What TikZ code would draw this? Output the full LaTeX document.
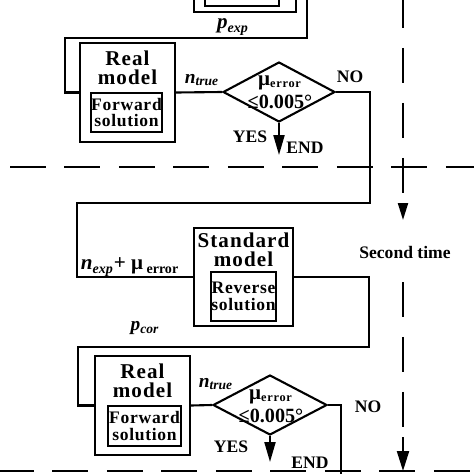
\documentclass[tikz,border=0pt]{standalone}
\usepackage{fontspec}
\setmainfont{Liberation Serif}
\usetikzlibrary{arrows.meta,shapes.geometric,positioning}

\tikzset{
  box/.style={draw, line width=1.2pt, inner sep=0pt},
  decide/.style={draw, diamond, line width=1.2pt, inner sep=0pt, minimum width=2.24cm, minimum height=1.2cm},
  title/.style={font=\bfseries\fontsize{12}{10.5}\selectfont\addfontfeatures{LetterSpace=5}, align=center, inner sep=0pt},
  solve/.style={font=\bfseries\fontsize{10}{9.5}\selectfont\addfontfeatures{LetterSpace=4}, align=center},
  lbl/.style={font=\bfseries\fontsize{10}{10}\selectfont, inner sep=0pt},
  var/.style={font=\bfseries\itshape\fontsize{12}{12}\selectfont, inner sep=0pt},
  flow/.style={line width=1.2pt},
  tip/.style={-{Triangle[length=0.4cm,width=0.22cm]}},
  cut/.style={line width=1.2pt, dash pattern=on 0.72cm off 0.37cm},
}

\begin{document}
\begin{tikzpicture}[x=0.02cm, y=-0.02cm]
    \clip (0,0) rectangle (474,474);

    % First time (cut off at the top)
    \node[box, minimum width=2.04cm, minimum height=2.08cm] (stdA) at (245,-40) {};
    \node[box, minimum width=1.48cm, minimum height=1.96cm] (revA) at (242,-43) {};

    % Real model, first check
    \node[box, minimum width=1.9cm, minimum height=1.98cm] (real1) at (127.5,92.5) {};
    \node[title, below=0.18cm of real1.north] (real1t) {Real\\model};
    \node[box, solve, minimum width=1.42cm, minimum height=0.78cm] (fwd1) at (126.5,112.5) {Forward\\solution};
    \node[decide] (dia1) at (279,92) {};
    \node[lbl, align=center] (dia1t) at (280,92) {{\fontsize{12}{12}\selectfont μ}\textsubscript{\addfontfeatures{LetterSpace=6}error}\\[2pt]{\fontsize{11.5}{11}\selectfont ≤0.005°}};

    % Standard model, second time
    \node[box, minimum width=1.98cm, minimum height=1.96cm] (std2) at (243.5,277) {};
    \node[title, below=0.12cm of std2.north] (std2t) {Standard\\model};
    \node[box, solve, minimum width=1.3cm, minimum height=0.98cm] (rev2) at (243.5,296.5) {Reverse\\solution};

    % Real model, second check
    \node[box, minimum width=1.9cm, minimum height=1.98cm] (real2) at (142.5,405.5) {};
    \node[title, below=0.18cm of real2.north] (real2t) {Real\\model};
    \node[box, solve, minimum width=1.46cm, minimum height=0.8cm] (fwd2) at (144.5,426) {Forward\\solution};
    \node[decide, minimum width=2.28cm] (dia2) at (270,405) {};
    \node[lbl, align=center] (dia2t) at (271,406) {{\fontsize{12}{12}\selectfont μ}\textsubscript{\addfontfeatures{LetterSpace=6}error}\\[2pt]{\fontsize{11.5}{11}\selectfont ≤0.005°}};

    % Connectors
    \draw[flow] (stdA.east) -- ++(10,0) |- (65,38) |- (real1.west);
    \draw[flow] (real1.east) -- (dia1.west);
    \draw[flow] (dia1.east) -| (370,203) -- (77,203) |- (std2.west);
    \draw[flow] (std2.east) -| (369,347) -- (78,347) |- (real2.west);
    \draw[flow] (real2.east) -- (dia2.west);
    \draw[flow] (dia2.east) -| (341,480);
    \draw[flow, tip] (dia1.south) -- (279,155);
    \draw[flow, tip] (dia2.south) -- (270,462);

    % Labels
    \node[var] (pexp) at (233,27) {p\textsubscript{exp}};
    \node[var, font=\bfseries\itshape\fontsize{11}{11}\selectfont] (ntrue1) at (202,80) {n\textsubscript{true}};
    \node[lbl] (no1) at (350,77) {NO};
    \node[lbl] (yes1) at (250,137) {YES};
    \node[lbl] (end1) at (305,148) {END};
    \node[var] (nexp) at (130,267) {n\textsubscript{exp}\textup{+ μ\,\textsubscript{error}}};
    \node[var, font=\bfseries\itshape\fontsize{11}{11}\selectfont] (pcor) at (145,328) {p\textsubscript{cor}};
    \node[var, font=\bfseries\itshape\fontsize{11}{11}\selectfont] (ntrue2) at (216,384) {n\textsubscript{true}};
    \node[lbl] (no2) at (368,407) {NO};
    \node[lbl] (yes2) at (231,447) {YES};
    \node[lbl] (end2) at (310,463) {END};
    \node[lbl] (second) at (405,252) {Second time};

    % Dashed separators
    \draw[cut] (10,167) -- (480,167);
    \draw[cut, line width=1.6pt] (-2,471) -- (480,471);
    \draw[cut, dash pattern=on 0.7cm off 0.4cm] (403,-7) -- (403,195);
    \draw[cut, dash pattern=on 0.7cm off 0.4cm] (403,282) -- (403,430);
    \draw[flow, -{Triangle[length=0.34cm,width=0.2cm]}] (403,203) -- (403,220);
    \draw[flow, -{Triangle[length=0.4cm,width=0.24cm]}] (403,437) -- (403,471);
\end{tikzpicture}
\end{document}
